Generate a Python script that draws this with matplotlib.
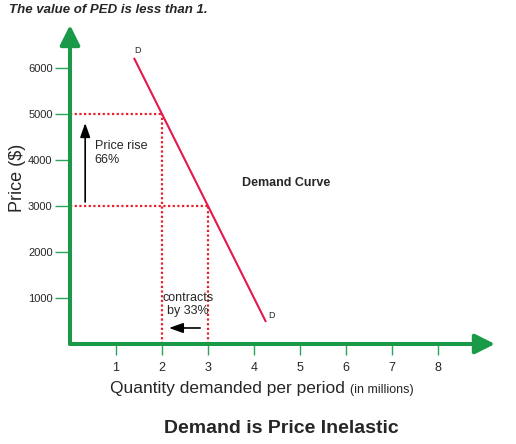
import matplotlib
matplotlib.use("Agg")
import matplotlib.pyplot as plt

plt.rcParams['font.family'] = ['Liberation Sans', 'DejaVu Sans']

# ---- data ----
quantity_ticks = [1, 2, 3, 4, 5, 6, 7, 8]
price_ticks = [1000, 2000, 3000, 4000, 5000, 6000]
demand_q = [1.4, 4.25]
demand_p = [6200, 500]
point_q = [3, 2]          # quantity before / after price rise
point_p = [3000, 5000]    # price before / after

GREEN = '#1a9a48'
TICK_GREEN = '#2aa55a'
RED_LINE = '#e3194b'
RED_DOT = '#e8202a'
TXT = '#262626'

W, H = 516, 444
fig = plt.figure(figsize=(W / 100, H / 100), dpi=100)
fig.patch.set_facecolor('white')

PX = 46.0  # pixels per unit
x0_px, y0_px = 70, 344
right_px, top_px = 500, 20
ax = fig.add_axes([x0_px / W, (H - y0_px) / H, (right_px - x0_px) / W, (y0_px - top_px) / H])
ax.set_xlim(0, (right_px - x0_px) / PX)
ax.set_ylim(0, (y0_px - top_px) / PX * 1000)
for s in ax.spines.values():
    s.set_visible(False)
ax.set_facecolor('none')

# ticks
ax.set_xticks(quantity_ticks)
ax.set_xticklabels([str(q) for q in quantity_ticks])
ax.set_yticks(price_ticks)
ax.set_yticklabels([str(p) for p in price_ticks])
ax.tick_params(axis='y', direction='out', length=10.5, width=1.0, color=TICK_GREEN,
               labelsize=8, labelcolor=TXT, pad=2)
ax.tick_params(axis='x', direction='out', length=8, width=1.0, color=TICK_GREEN,
               labelsize=9, labelcolor=TXT, pad=5)

# axis arrows
ymax_arrow = (y0_px - 25) / PX * 1000
xmax_arrow = (495 - x0_px) / PX
arrow_style = '-|>,head_length=1.2,head_width=0.6'
ax.annotate('', xy=(0, ymax_arrow), xytext=(0, 0),
            arrowprops=dict(arrowstyle=arrow_style, mutation_scale=10, lw=2.9,
                            color=GREEN, shrinkA=0, shrinkB=0), annotation_clip=False)
ax.annotate('', xy=(xmax_arrow, 0), xytext=(0, 0),
            arrowprops=dict(arrowstyle=arrow_style, mutation_scale=10, lw=2.9,
                            color=GREEN, shrinkA=0, shrinkB=0), annotation_clip=False)

# dotted guide lines
for q, p in zip(point_q, point_p):
    ax.plot([0, q], [p, p], color=RED_DOT, lw=1.6, dashes=(1, 1.1), zorder=2)
    ax.plot([q, q], [0, p], color=RED_DOT, lw=1.6, dashes=(1, 1.1), zorder=2)

# demand curve
ax.plot(demand_q, demand_p, color=RED_LINE, lw=1.5, zorder=3)
ax.text(1.46, 6391, 'D', fontsize=6.5, color=TXT, ha='center', va='center')
ax.text(4.30, 609, 'D', fontsize=6.5, color=TXT, ha='left', va='center')

# annotations
ax.annotate('', xy=(0.33, 4804), xytext=(0.33, 3087),
            arrowprops=dict(arrowstyle='-|>,head_length=0.85,head_width=0.3',
                            mutation_scale=10, lw=1.2, color='black',
                            shrinkA=0, shrinkB=0))
ax.text(0.54, 4152, 'Price rise\n66%', fontsize=9, color=TXT, ha='left', va='center',
        linespacing=1.25)
ax.text(4.70, 3500, 'Demand Curve', fontsize=9, fontweight='bold', color=TXT,
        ha='center', va='center')
ax.text(2.57, 859, 'contracts\nby 33%', fontsize=9, color=TXT, ha='center', va='center',
        linespacing=1.2)
ax.annotate('', xy=(2.15, 348), xytext=(2.83, 348),
            arrowprops=dict(arrowstyle='-|>,head_length=0.85,head_width=0.3',
                            mutation_scale=10, lw=1.2, color='black',
                            shrinkA=0, shrinkB=0))

# labels and titles
fig.text(17 / W, 1 - 178 / H, 'Price ($)', rotation=90, fontsize=13, color=TXT,
         ha='center', va='center')
fig.text(110 / W, 1 - 393 / H, 'Quantity demanded per period', fontsize=12.5, color=TXT,
         ha='left', va='baseline')
fig.text(350 / W, 1 - 393 / H, '(in millions)', fontsize=9, color=TXT,
         ha='left', va='baseline')
fig.text(9 / W, 1 - 13 / H, 'The value of PED is less than 1.', fontsize=9.5,
         fontweight='bold', fontstyle='italic', color=TXT, ha='left', va='baseline')
fig.text(281 / W, 1 - 433 / H, 'Demand is Price Inelastic', fontsize=14,
         fontweight='bold', color=TXT, ha='center', va='baseline')

fig.savefig('out.png', dpi=100, facecolor='white')
